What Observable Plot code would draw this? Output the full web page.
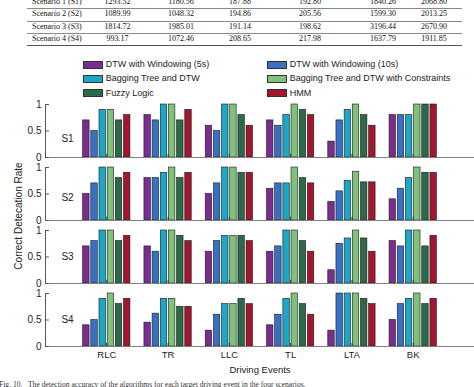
<!DOCTYPE html>
<html><head><meta charset="utf-8">
<script src="https://cdn.jsdelivr.net/npm/d3@7"></script>
<script src="https://cdn.jsdelivr.net/npm/@observablehq/plot@0.6"></script>
<style>
html,body{margin:0;padding:0;background:#fff;}
#root{position:relative;width:474px;height:387px;overflow:hidden;font-family:"Liberation Sans",Arial,sans-serif;}
.tcell{position:absolute;font-family:"Liberation Serif","Times New Roman",serif;font-size:8px;line-height:10px;color:#111;white-space:nowrap;}
.tline{position:absolute;left:27px;width:435px;}
.leg{position:absolute;font-size:9px;line-height:11px;color:#222;white-space:nowrap;display:flex;align-items:center;}
.sw{width:18px;height:6px;border:0.8px solid #333;margin-right:3px;box-sizing:content-box;}
#plot{position:absolute;left:0;top:96px;}
#ylabel{position:absolute;left:17.5px;top:216px;transform:translate(-50%,-50%) rotate(-90deg);font-size:10px;color:#222;white-space:nowrap;}
#caption{position:absolute;left:-1px;top:379.5px;font-family:"Liberation Serif","Times New Roman",serif;font-size:7.6px;line-height:9px;color:#333;white-space:pre;}
</style></head>
<body><div id="root"></div>
<script>
// ---- table data ----
const scenarioNames = ["Scenario 1 (S1)", "Scenario 2 (S2)", "Scenario 3 (S3)", "Scenario 4 (S4)"];
const tableS1 = ["1293.52", "1180.56", "187.88", "192.80", "1840.26", "2068.80"];
const tableS2 = ["1089.99", "1048.32", "194.86", "205.56", "1599.30", "2013.25"];
const tableS3 = ["1814.72", "1985.01", "191.14", "198.62", "3196.44", "2670.90"];
const tableS4 = ["993.17", "1072.46", "208.65", "217.98", "1637.79", "1911.85"];

// ---- chart data ----
const scenarios = ["S1", "S2", "S3", "S4"];
const events = ["RLC", "TR", "LLC", "TL", "LTA", "BK"];
const algorithms = ["DTW with Windowing (5s)", "DTW with Windowing (10s)", "Bagging Tree and DTW",
  "Bagging Tree and DTW with Constraints", "Fuzzy Logic", "HMM"];
const colors = ["#7b2d8f", "#3a70c3", "#1ca7c9", "#80c27c", "#2c6949", "#a3162f"];
const yTicks = [0, 0.5, 1];
// values per event (RLC, TR, LLC, TL, LTA, BK), each listing the six algorithms
const rateS1 = [[0.7,0.5,0.9,0.9,0.7,0.8],[0.8,0.7,1.0,1.0,0.7,0.9],[0.6,0.5,1.0,1.0,0.8,0.6],
                [0.7,0.6,0.8,1.0,0.9,0.8],[0.3,0.7,0.9,1.0,0.8,0.6],[0.8,0.8,0.8,1.0,1.0,1.0]];
const rateS2 = [[0.5,0.7,1.0,1.0,0.8,0.9],[0.8,0.8,0.9,1.0,0.8,0.9],[0.5,0.7,1.0,1.0,0.9,0.9],
                [0.6,0.7,0.7,1.0,0.8,0.7],[0.35,0.55,0.75,0.92,0.72,0.72],[0.4,0.6,0.8,1.0,0.9,0.9]];
const rateS3 = [[0.7,0.8,1.0,1.0,0.8,0.9],[0.7,0.6,1.0,1.0,0.9,0.8],[0.6,0.8,0.9,0.9,0.9,0.8],
                [0.6,0.7,1.0,1.0,0.8,0.6],[0.25,0.75,0.85,1.0,0.85,0.6],[0.8,0.7,1.0,1.0,0.7,0.9]];
const rateS4 = [[0.4,0.5,0.9,1.0,0.8,0.9],[0.45,0.62,0.9,0.9,0.75,0.75],[0.3,0.6,0.8,0.8,0.9,0.8],
                [0.4,0.6,0.9,1.0,0.8,0.6],[0.3,1.0,1.0,1.0,0.9,0.8],[0.5,0.8,0.9,1.0,0.8,0.9]];

const caption = "Fig. 10.   The detection accuracy of the algorithms for each target driving event in the four scenarios.";

const root = document.getElementById("root");

// ---- table (partially cut at the top, as in the source page) ----
const tableRows = [tableS1, tableS2, tableS3, tableS4];
const colCenters = [117.5, 181, 240, 310, 383, 434];
tableRows.forEach((vals, r) => {
  const cy = 2.1 + 12.3 * r;
  const lab = document.createElement("div");
  lab.className = "tcell"; lab.textContent = scenarioNames[r];
  lab.style.left = "32px"; lab.style.top = (cy - 5) + "px";
  root.appendChild(lab);
  vals.forEach((v, c) => {
    const d = document.createElement("div");
    d.className = "tcell"; d.textContent = v;
    d.style.left = colCenters[c] + "px"; d.style.top = (cy - 5) + "px";
    d.style.transform = "translateX(-50%)";
    root.appendChild(d);
  });
  const ln = document.createElement("div");
  ln.className = "tline";
  const last = r === tableRows.length - 1;
  ln.style.top = (cy + 6.1) + "px";
  ln.style.height = last ? "1px" : "0.6px";
  ln.style.background = last ? "#555" : "#888";
  root.appendChild(ln);
});

// ---- legend ----
algorithms.forEach((a, i) => {
  const col = i % 2, row = Math.floor(i / 2);
  const d = document.createElement("div");
  d.className = "leg";
  d.style.left = (col === 0 ? 82.7 : 266.7) + "px";
  d.style.top = (64.6 + 14.3 * row - 5.5) + "px";
  const sw = document.createElement("div");
  sw.className = "sw"; sw.style.background = colors[i];
  const t = document.createElement("span"); t.textContent = a;
  d.appendChild(sw); d.appendChild(t);
  root.appendChild(d);
});

// ---- chart ----
const rates = {S1: rateS1, S2: rateS2, S3: rateS3, S4: rateS4};
const rows = [];
scenarios.forEach(s => events.forEach((e, ei) => algorithms.forEach((a, k) => {
  rows.push({scenario: s, event: e, ei: ei + 1, k, algorithm: a, value: rates[s][ei][k]});
})));
const eventIdx = events.map((e, i) => i + 1);
const pitch = 0.8 / 6, bw = 0.105;
const labelY = {S1: 0.35, S2: 0.43, S3: 0.5, S4: 0.5};

const chart = Plot.plot({
  width: 474, height: 280,
  marginLeft: 45, marginRight: 0, marginTop: 6.7, marginBottom: 27.7,
  style: {fontFamily: "'Liberation Sans', Arial, sans-serif", fontSize: "10px", color: "#222", background: "transparent", overflow: "visible"},
  x: {domain: [0, 7]},
  y: {domain: [0, 1]},
  fy: {domain: scenarios, paddingInner: 0.156, paddingOuter: 0, axis: null},
  color: {domain: algorithms, range: colors},
  marks: [
    Plot.rect(rows, {
      x1: d => d.ei + (d.k - 2.5) * pitch - bw / 2,
      x2: d => d.ei + (d.k - 2.5) * pitch + bw / 2,
      y1: 0, y2: "value", fy: "scenario", fill: "algorithm",
      stroke: "#1a1a1a", strokeWidth: 0.6
    }),
    Plot.ruleY([0], {stroke: "#808080", strokeWidth: 1}),
    Plot.ruleX([0], {y1: 0, y2: 1, stroke: "#555", strokeWidth: 1}),
    Plot.ruleY(yTicks, {x1: 0, x2: 0.065, stroke: "#555", strokeWidth: 1}),
    Plot.ruleX(eventIdx, {y1: 0, y2: 0.06, stroke: "#333", strokeWidth: 1}),
    Plot.text(scenarios, {fy: d => d, text: d => d, x: 0.36, y: d => labelY[d], fontSize: 10, fill: "#222"}),
    Plot.axisY({ticks: yTicks, tickSize: 0, tickPadding: 4, tickFormat: d => String(d), label: null, fontSize: 10}),
    Plot.axisX({ticks: eventIdx, tickSize: 0, tickPadding: 5, tickFormat: i => events[i - 1],
      label: "Driving Events", labelAnchor: "center", labelArrow: "none", labelOffset: 26, fontSize: 9.5})
  ]
});
chart.id = "plot";
root.appendChild(chart);

const yl = document.createElement("div");
yl.id = "ylabel"; yl.textContent = "Correct Detecation Rate";
root.appendChild(yl);

const cap = document.createElement("div");
cap.id = "caption"; cap.textContent = caption;
root.appendChild(cap);
</script>
</body></html>
